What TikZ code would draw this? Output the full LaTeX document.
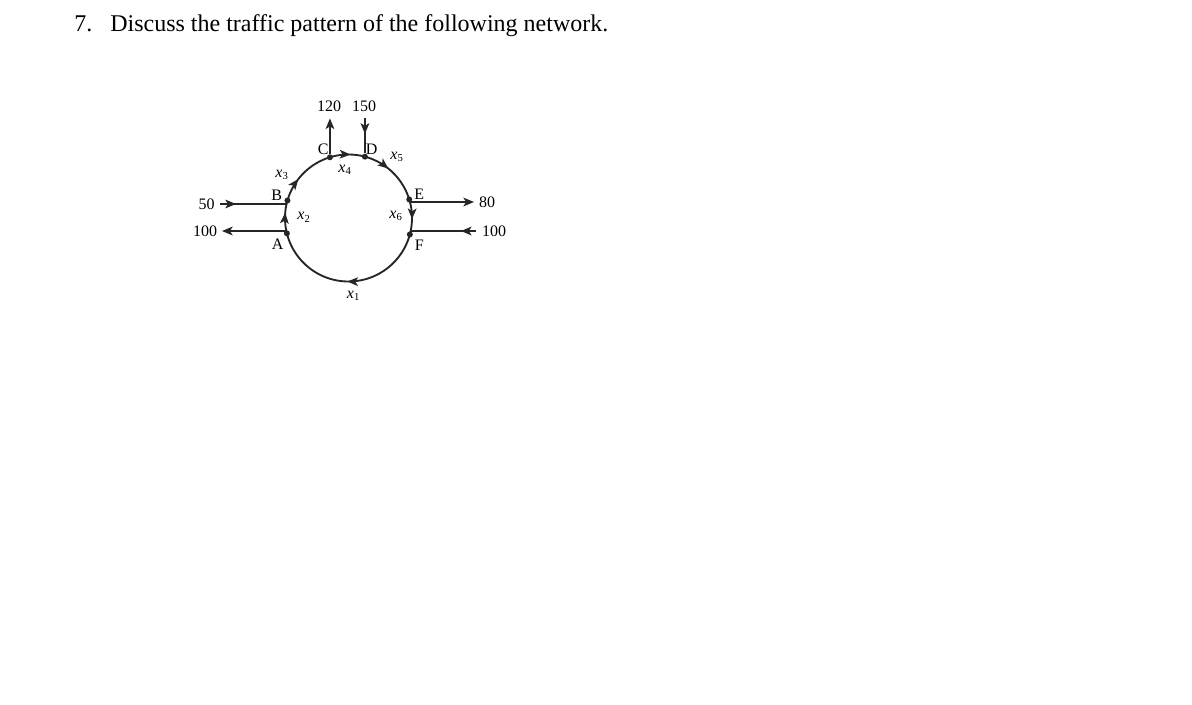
\documentclass[tikz,border=0pt]{standalone}
\usepackage{fontspec}
\setmainfont{Liberation Serif}
\usetikzlibrary{arrows.meta,decorations.markings}
\tikzset{
  road/.style={draw=black!85,line width=1.4pt},
  tip/.style={-{Stealth[length=8pt,width=6.5pt,inset=2pt]}},
  midtip/.style={postaction={decorate},decoration={markings,
      mark=at position #1 with {\arrow{Stealth[length=8pt,width=6.5pt,inset=2pt]}}}},
  /pgf/decoration/ringtip/.style={mark=at position #1 with {\arrowreversed{Stealth[length=8pt,width=6.5pt,inset=2pt]}}},
  junction/.style={shape=circle,fill=black!85,inner sep=0pt,minimum size=4.5pt},
  lbl/.style={inner sep=1.5pt,font=\fontsize{12}{14}\selectfont},
}
\newcommand{\flowvar}[1]{\textit{x}\textsubscript{#1}}
\begin{document}
\begin{tikzpicture}[x=0.75pt,y=-0.75pt]
    \useasboundingbox (0,0) rectangle (1192,704);
    \node[anchor=base west,inner sep=0pt,font=\fontsize{18}{22}\selectfont] (num) at (74,31) {7.};
    \node[anchor=base west,inner sep=0pt,font=\fontsize{18}{22}\selectfont] (title) at (110,31) {Discuss the traffic pattern of the following network.};
    % the ring road
    \node[road,shape=circle,minimum size=95.25pt,inner sep=0pt,outer sep=0pt,
        postaction={decorate},decoration={markings,
          ringtip=0.142,ringtip=0.245,ringtip=0.395,ringtip=0.487,ringtip=0.747,ringtip=0.997}] (ring) at (348.5,218) {};
    \node[junction] (A) at (ring.194) {};
    \node[junction] (B) at (ring.164) {};
    \node[junction] (C) at (ring.107) {};
    \node[junction] (D) at (ring.75) {};
    \node[junction] (E) at (ring.17) {};
    \node[junction] (F) at (ring.-15) {};
    \node[lbl] (labA) at (277.7,244) {A};
    \node[lbl] (labB) at (276.7,195) {B};
    \node[lbl] (labC) at (323.3,149) {C};
    \node[lbl] (labD) at (371.7,149) {D};
    \node[lbl] (labE) at (419.3,194) {E};
    \node[lbl] (labF) at (419.3,245) {F};
    \node[lbl] (x1) at (353.5,296) {\flowvar{1}};
    \node[lbl] (x2) at (304,217.5) {\flowvar{2}};
    \node[lbl] (x3) at (282,175) {\flowvar{3}};
    \node[lbl] (x4) at (345,170) {\flowvar{4}};
    \node[lbl] (x5) at (397,157) {\flowvar{5}};
    \node[lbl] (x6) at (396,216) {\flowvar{6}};
    % outside roads
    \node[lbl] (n50) at (206.7,204) {50};
    \node[lbl] (n100L) at (205,231) {100};
    \node[lbl] (n80) at (487,202) {80};
    \node[lbl] (n100R) at (494,231) {100};
    \node[lbl] (n120) at (329,106.7) {120};
    \node[lbl] (n150) at (364,106.7) {150};
    \draw[road,midtip=0.27,shorten <=2pt] (n50) -- (n50 -| B);
    \draw[road,tip,shorten >=2pt] (n100L -| A) -- (n100L);
    \draw[road,tip,shorten >=2pt] (n80 -| E) -- (n80);
    \draw[road,midtip=0.27,shorten <=2.5pt] (n100R) -- (n100R -| F);
    \draw[road,tip,shorten >=3pt] (C) -- (C |- n120.south);
    \draw[road,midtip=0.5,shorten <=2.5pt] (D |- n150.south) -- (D);
\end{tikzpicture}
\end{document}
